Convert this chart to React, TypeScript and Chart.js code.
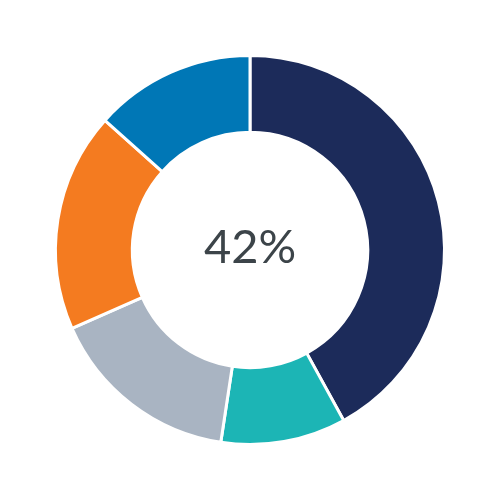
import React, { useEffect, useRef } from "react";
import { Chart, registerables } from "chart.js";

Chart.register(...registerables);

const categories = ["Segment A", "Segment B", "Segment C", "Segment D", "Segment E"];
const values = [42, 10.4, 16, 18.2, 13.4];
const colors = ["#1c2b5a", "#1cb5b5", "#a9b4c2", "#f47b20", "#0077b6"];
const centerLabel = "42%";

export default function App() {
  const ref = useRef<HTMLCanvasElement | null>(null);
  useEffect(() => {
    if (!ref.current) return;
    const chart = new Chart(ref.current, {
      type: "doughnut",
      data: {
        labels: categories,
        datasets: [
          {
            data: values,
            backgroundColor: colors,
            borderColor: "#ffffff",
            borderWidth: 3,
          },
        ],
      },
      options: {
        animation: false,
        responsive: false,
        cutout: "60.5%",
        layout: { padding: 54 },
        plugins: { legend: { display: false }, tooltip: { enabled: false } },
      },
    });
    return () => chart.destroy();
  }, []);
  return (
    <div style={{ position: "fixed", left: 0, top: 0, width: 500, height: 500, background: "#fff" }}>
      <canvas ref={ref} width={500} height={500} style={{ width: 500, height: 500, display: "block" }} />
      <div
        style={{
          position: "absolute",
          left: 0,
          top: 0,
          width: 500,
          height: 490,
          display: "flex",
          alignItems: "center",
          justifyContent: "center",
          fontFamily: "Lato, sans-serif",
          fontSize: 47,
          color: "#3c4449",
          pointerEvents: "none",
        }}
      >
        {centerLabel}
      </div>
    </div>
  );
}
